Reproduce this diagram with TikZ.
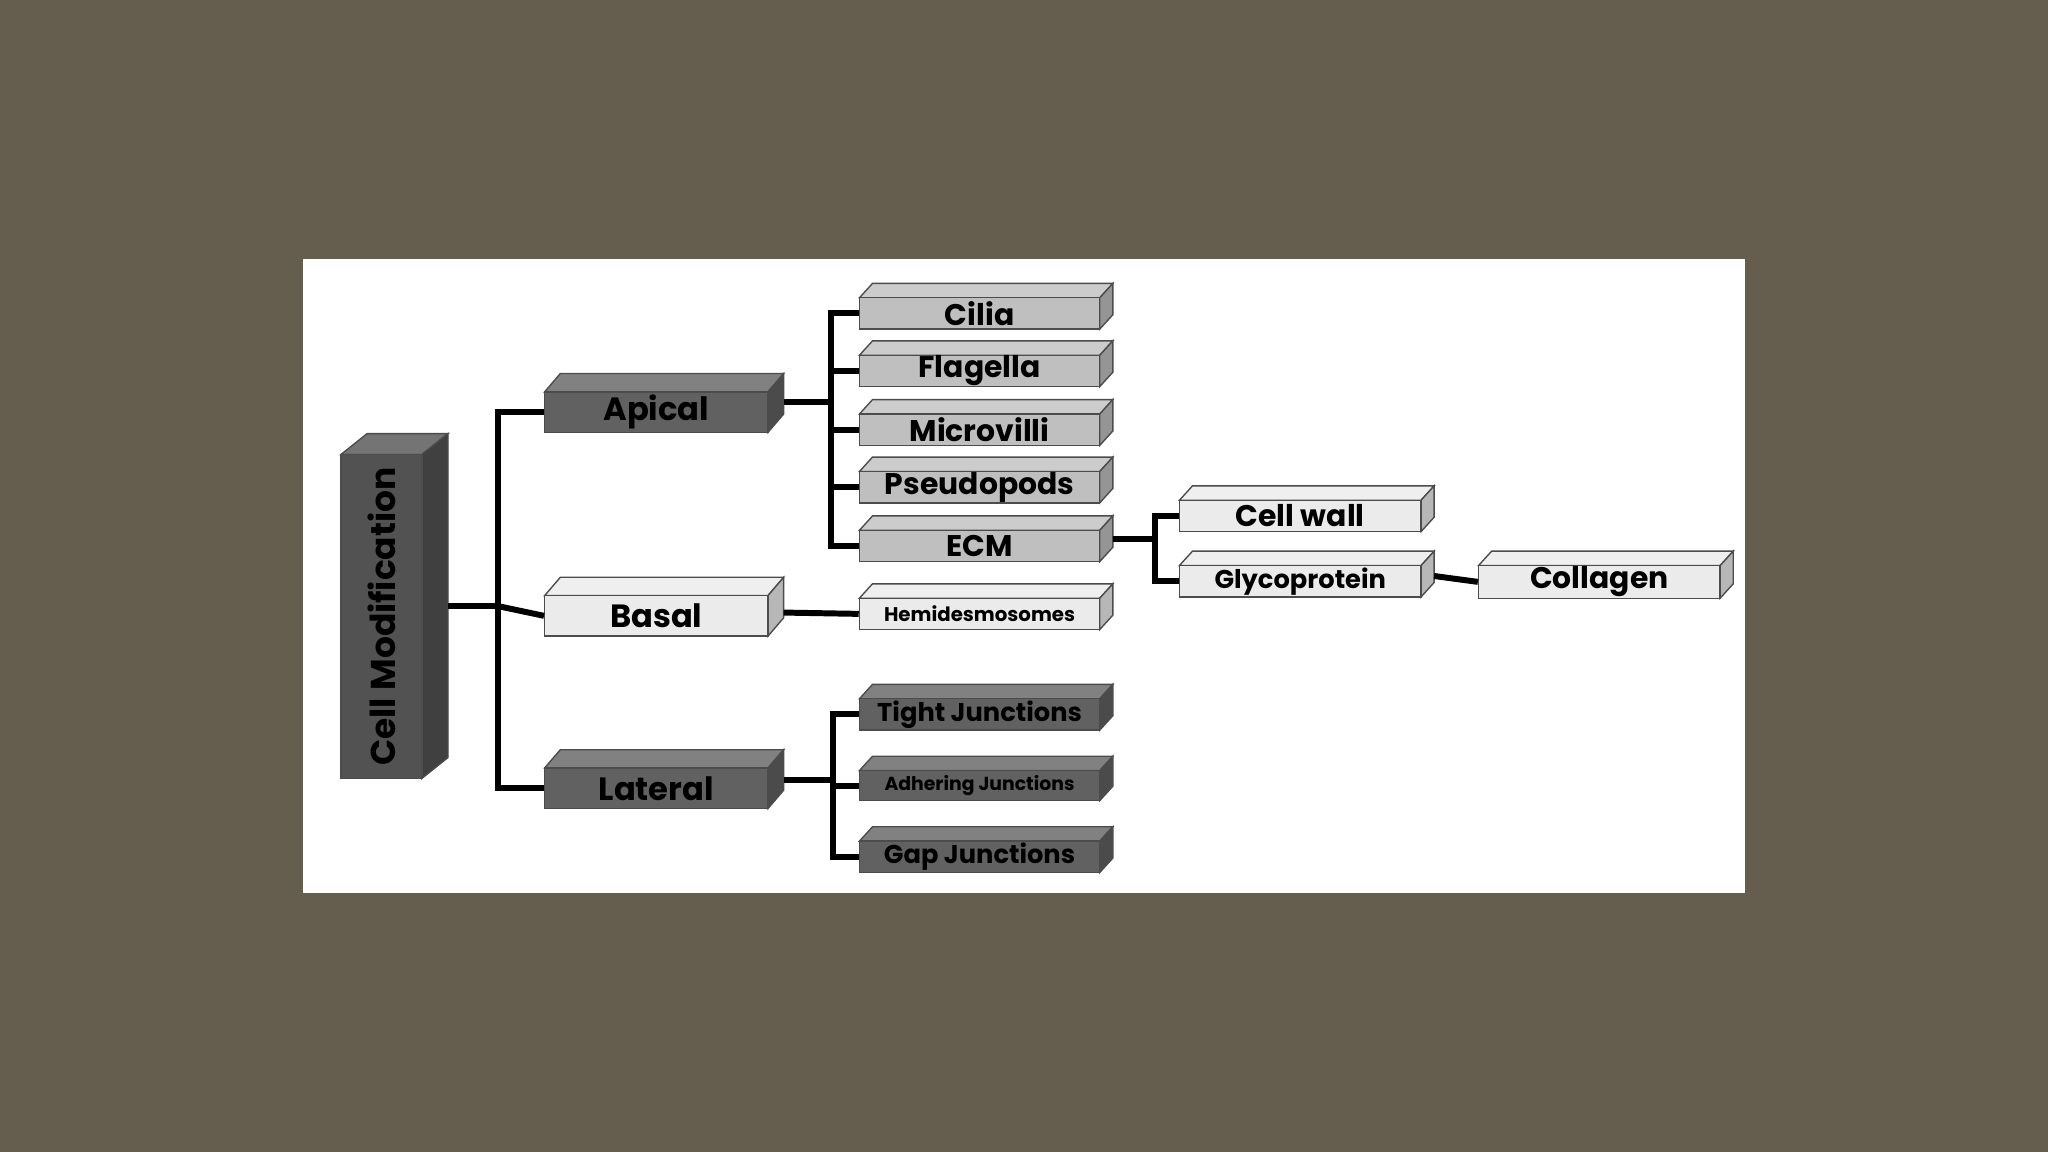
\documentclass[tikz,border=0pt]{standalone}
\usepackage{fontspec}
\setmainfont{Poppins}
\definecolor{bg}{HTML}{655E4F}
\newcommand{\cubeb}[9]{% name x1 y1 x2 y2 dx dy front text
 \colorlet{cfr}{#8}\colorlet{ctp}{cfr!80!white}\colorlet{csd}{cfr!78!black}%
 \fill[ctp,draw=gray!60!black,line width=0.3pt] (#2,#3) -- ++(#6,-#7) -- (#4+#6,#3-#7) -- (#4,#3) -- cycle;
 \fill[csd,draw=gray!60!black,line width=0.3pt] (#4,#3) -- (#4+#6,#3-#7) -- (#4+#6,#5-#7) -- (#4,#5) -- cycle;
 \node[fill=cfr,draw=gray!60!black,line width=0.3pt,inner sep=0pt,minimum width={(#4-#2)*0.01cm},minimum height={(#5-#3)*0.01cm},font=\bfseries] (#1) at ({(#2+#4)/2},{(#3+#5)/2}) {#9};}
\begin{document}
\begin{tikzpicture}[x=0.01cm,y=-0.01cm,conn/.style={line width=1.3pt,black}]
\fill[bg] (0,0) rectangle (1568,882);
\fill[white] (232,198) rectangle (1336,684);
\colorlet{dk}{black!62}
\colorlet{md}{black!25}
\colorlet{lt}{black!8}
\colorlet{cmf}{black!68}
\cubeb{cm}{261}{348}{323}{596}{20}{16}{cmf}{\rotatebox{90}{\fontsize{7.5}{8}\selectfont Cell Modification}}
\cubeb{ap}{417}{300}{588}{331}{12}{14}{dk}{\fontsize{7}{8}\selectfont Apical}
\cubeb{ba}{417}{456}{588}{487}{12}{14}{lt}{\fontsize{7}{8}\selectfont Basal}
\cubeb{la}{417}{588}{588}{619}{12}{14}{dk}{\fontsize{7}{8}\selectfont Lateral}
\cubeb{ci}{658}{228}{842}{252}{10}{11}{md}{\fontsize{6.5}{7}\selectfont Cilia}
\cubeb{fl}{658}{272}{842}{296}{10}{11}{md}{\fontsize{6.5}{7}\selectfont Flagella}
\cubeb{mi}{658}{317}{842}{341}{10}{11}{md}{\fontsize{6.5}{7}\selectfont Microvilli}
\cubeb{ps}{658}{361}{842}{385}{10}{11}{md}{\fontsize{6.5}{7}\selectfont Pseudopods}
\cubeb{ec}{658}{406}{842}{430}{10}{11}{md}{\fontsize{6.5}{7}\selectfont ECM}
\cubeb{he}{658}{458}{842}{482}{10}{11}{lt}{\fontsize{4.3}{5}\selectfont Hemidesmosomes}
\cubeb{tj}{658}{535}{842}{559}{10}{11}{dk}{\fontsize{5.6}{6}\selectfont Tight Junctions}
\cubeb{aj}{658}{590}{842}{613}{10}{11}{dk}{\fontsize{4.1}{5}\selectfont Adhering Junctions}
\cubeb{gj}{658}{644}{842}{668}{10}{11}{dk}{\fontsize{5.6}{6}\selectfont Gap Junctions}
\cubeb{cw}{903}{383}{1088}{407}{10}{11}{lt}{\fontsize{6.5}{7}\selectfont Cell wall}
\cubeb{gl}{903}{433}{1088}{457}{10}{11}{lt}{\fontsize{5.6}{6}\selectfont Glycoprotein}
\cubeb{co}{1132}{433}{1317}{458}{10}{11}{lt}{\fontsize{6.5}{7}\selectfont Collagen}
\coordinate (t1) at (381,464);
\coordinate (t2) at (636,308);
\coordinate (t3) at (638,597);
\coordinate (t4) at (884,413);
\draw[conn] (343,464) -- (t1);
\draw[conn] (t1) |- (ap.west); \draw[conn] (t1) -- (ba.west); \draw[conn] (t1) |- (la.west);
\draw[conn] (600,308) -- (t2);
\foreach \n in {ci,fl,mi,ps,ec} \draw[conn] (t2) |- (\n.west);
\draw[conn] (600,469) -- (he.west);
\draw[conn] (600,597) -- (t3);
\foreach \n in {tj,aj,gj} \draw[conn] (t3) |- (\n.west);
\draw[conn] (852,413) -- (t4);
\foreach \n in {cw,gl} \draw[conn] (t4) |- (\n.west);
\draw[conn] (1098,441) -- (co.west);
\end{tikzpicture}
\end{document}
